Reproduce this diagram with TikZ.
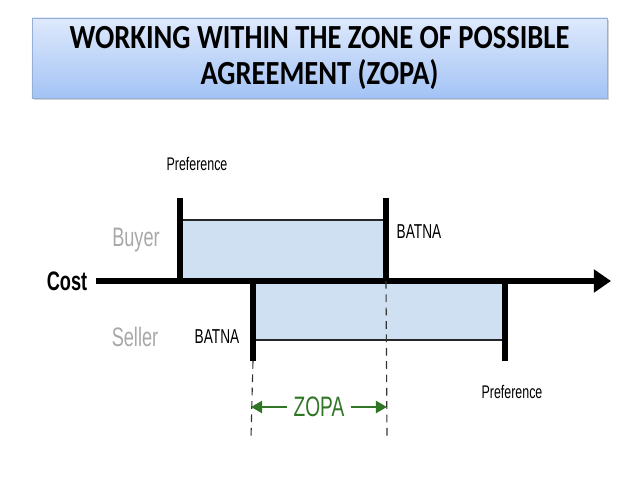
\documentclass[tikz,border=0pt]{standalone}
\usepackage{fontspec}
\setmainfont{Carlito}
\newfontfamily\titlefont[FakeStretch=0.845]{Carlito}
\newfontfamily\narrowfont[FakeStretch=0.68]{Liberation Sans}
\usetikzlibrary{positioning,calc}
\usetikzlibrary{arrows.meta,shadows}
\definecolor{TitleTop}{RGB}{222,233,252}
\definecolor{TitleBot}{RGB}{163,195,245}
\definecolor{TitleLine}{RGB}{150,175,215}
\definecolor{BarBlue}{RGB}{207,224,242}
\definecolor{ZopaGreen}{RGB}{48,118,38}
\definecolor{SideGray}{RGB}{168,168,168}
\tikzset{
  titlebox/.style={draw=TitleLine,line width=0.5pt,top color=TitleTop,bottom color=TitleBot,
    drop shadow={shadow xshift=1.2pt,shadow yshift=-1.5pt,opacity=0.35}},
  post/.style={draw=black,line width=3.6pt},
  bar/.style={fill=BarBlue,draw=none},
  barline/.style={draw=black!85,line width=1pt},
  axis/.style={draw=black,line width=3.6pt,-{Triangle[length=0.43cm,width=0.56cm]}},
  guide/.style={draw=black!80,line width=0.8pt,dash pattern=on 5.5pt off 4pt},
  zarrow/.style={draw=ZopaGreen,line width=2pt,-{Triangle[length=0.28cm,width=0.3cm]}},
}
\tikzset{lab/.style={font=\narrowfont\fontsize{13}{15}\selectfont,inner sep=0pt},
  batna/.style={font=\narrowfont\fontsize{14.3}{16}\selectfont,inner sep=0pt},
  side/.style={font=\narrowfont\fontsize{19}{21}\selectfont,text=SideGray,inner sep=0pt},
  costlab/.style={font=\narrowfont\bfseries\fontsize{19}{21}\selectfont,inner sep=0pt},
  zopalab/.style={font=\narrowfont\fontsize{20}{22}\selectfont,text=ZopaGreen,inner sep=0pt}}

\begin{document}
\begin{tikzpicture}[x=0.025cm,y=-0.025cm]
\useasboundingbox (0,0) rectangle (638,478);
% title
\node[titlebox,minimum width=14.375cm,minimum height=2cm,align=center,
  font=\titlefont\bfseries\fontsize{24}{26}\selectfont] (title) at (319.5,58)
  {WORKING WITHIN THE ZONE OF POSSIBLE\\AGREEMENT (ZOPA)};
% posts and bars
\coordinate (bl) at (180,198);
\coordinate (br) at (386,198);
\coordinate (sl) at (253,361);
\coordinate (sr) at (505,361);
\fill[bar] (180,220) rectangle (386,281);
\fill[bar] (253,281) rectangle (505,340);
\draw[barline] (180,220) -- (386,220);
\draw[barline] (253,340) -- (505,340);
\coordinate (axl) at (96,281);
\coordinate (axr) at (611,281);
\draw[axis] (axl) -- (axr);
\draw[post] (bl) -- (bl |- axl);
\draw[post] (br) -- (br |- axl);
\draw[post] (sl) -- (sl |- axl);
\draw[post] (sr) -- (sr |- axl);
% labels
\node[costlab] (cost) at (67,281) {Cost};
\node[side] (buyer) at (136,240) {Buyer};
\node[side] (seller) at (135,337) {Seller};
\node[lab] (bpref) at (197,164) {Preference};
\node[batna] (bbatna) at (419,232) {BATNA};
\node[batna] (sbatna) at (217,337) {BATNA};
\node[lab] (spref) at (512,392) {Preference};
% zopa
\coordinate (zl) at (251,437);
\coordinate (zr) at (387,437);
\draw[guide] (sl) -- (zl);
\draw[guide] (br |- axl) -- (zr);
\node[zopalab] (zopa) at (319,407) {ZOPA};
\draw[zarrow] (zopa.west) ++(-6,0) coordinate (zla) -- (zla -| zl);
\draw[zarrow] (zopa.east) ++(6,0) coordinate (zra) -- (zra -| zr);
\end{tikzpicture}
\end{document}
